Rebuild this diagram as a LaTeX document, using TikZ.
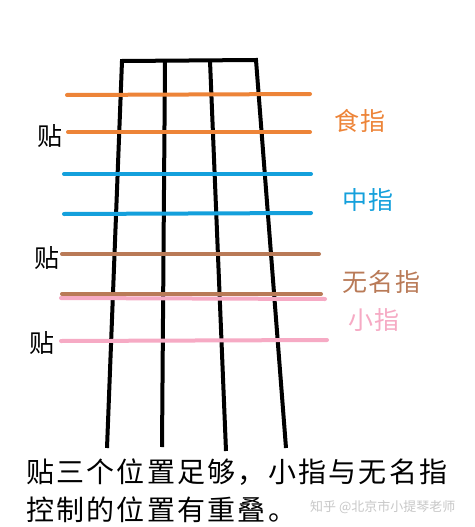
\documentclass[tikz,border=0pt]{standalone}
\usepackage{fontspec}
\newfontfamily\cjk{Noto Sans CJK SC}
\newfontfamily\cjkwide[LetterSpace=8]{Noto Sans CJK SC}
\newfontfamily\cjklab[LetterSpace=6]{Noto Sans CJK SC}
\definecolor{forange}{RGB}{237,132,56}
\definecolor{fblue}{RGB}{20,160,220}
\definecolor{fbrown}{RGB}{185,122,87}
\definecolor{fpink}{RGB}{246,170,196}
\definecolor{wmark}{RGB}{200,200,200}
\tikzset{
  stringline/.style={line width=4pt, black, line join=miter},
  fretline/.style={line width=4pt, line cap=round},
  lab/.style={inner sep=0pt, font=\cjklab\fontsize{25}{28}\selectfont},
  tie/.style={inner sep=0pt, font=\cjk\fontsize{25}{28}\selectfont},
  bottomtext/.style={inner sep=0pt, anchor=west, font=\cjkwide\fontsize{28}{32}\selectfont}
}
\begin{document}
\begin{tikzpicture}[x=1pt,y=-1pt]
\useasboundingbox (0,0) rectangle (474,527);
\fill[white] (0,0) rectangle (474,527);
% strings
\coordinate (s1b) at (107,448);
\coordinate (s1t) at (122,61);
\coordinate (s4t) at (256,60);
\coordinate (s4b) at (286,448);
\draw[stringline] (s1b) -- (s1t) -- (s4t) -- (s4b);
\coordinate (s2t) at (165,61);
\coordinate (s2b) at (162,447);
\coordinate (s3t) at (210,61);
\coordinate (s3b) at (226,451);
\draw[stringline] (s2t) -- (s2b);
\draw[stringline] (s3t) -- (s3b);
% finger lines
\draw[fretline, forange] (67,95) -- (310,94);
\draw[fretline, forange] (68,132) -- (310,132);
\draw[fretline, fblue] (64,174) -- (311,174);
\draw[fretline, fblue] (64,214) -- (311,213);
\draw[fretline, fbrown] (62,254) -- (319,254);
\draw[fretline, fpink] (61,298) -- (325,299);
\draw[fretline, fbrown] (62,294) -- (321,294);
\draw[fretline, fpink] (61,341) -- (327,340);
% labels
\node[lab, text=forange] (shizhi) at (360,121) {食指};
\node[lab, text=fblue] (zhongzhi) at (368,200) {中指};
\node[lab, text=fbrown] (wumingzhi) at (381,282) {无名指};
\node[lab, text=fpink] (xiaozhi) at (374,320) {小指};
\node[tie] (tie1) at (50,136) {贴};
\node[tie] (tie2) at (47,258) {贴};
\node[tie] (tie3) at (42,343) {贴};
% bottom text
\node[bottomtext] (line1) at (26,472) {贴三个位置足够，小指与无名指};
\node[bottomtext] (line2) at (26,510) {控制的位置有重叠。};
\node[inner sep=0pt, anchor=west, text=wmark, font=\cjk\fontsize{13}{15}\selectfont] (wm) at (310,507) {知乎 @北京市小提琴老师};
\end{tikzpicture}
\end{document}
